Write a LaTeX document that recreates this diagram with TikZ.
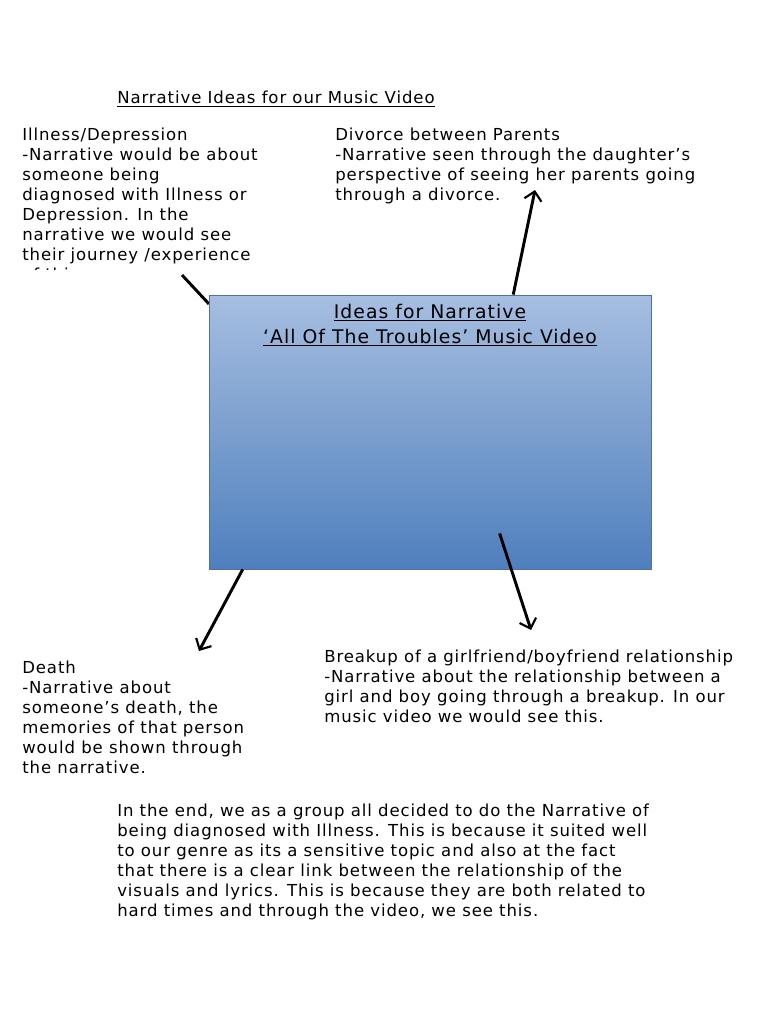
\documentclass[tikz,border=0pt]{standalone}
\usepackage{fontspec}
\setmainfont{DejaVu Sans}[LetterSpace=5.5]
\usetikzlibrary{arrows.meta,calc}

\begin{document}
\begin{tikzpicture}[x=0.75pt,y=-0.75pt]
        \tikzstyle{txt}=[anchor=north west,inner sep=0pt,align=left,font=\fontsize{12.4}{15}\selectfont]
        \tikzstyle{ideabox}=[rectangle,draw={rgb,255:red,80;green,112;blue,168},line width=0.6pt,
          top color={rgb,255:red,166;green,190;blue,224},bottom color={rgb,255:red,79;green,127;blue,189},
          minimum width=331.5pt,minimum height=205.5pt,inner sep=0pt]
        \tikzstyle{link}=[line width=2.2pt,-{Straight Barb[length=6.5pt,width=13pt,line width=1.6pt]}]
        \useasboundingbox (0,0) rectangle (768,1024);
        \node[txt] (heading) at (117,91) {\underline{Narrative Ideas for our Music Video}};
        \begin{scope}
          \clip (0,120) rectangle (330,269);
          \node[txt] (idea_1) at (22,128) {Illness/Depression\\-Narrative would be about\\someone being\\diagnosed with Illness or\\Depression. In the\\narrative we would see\\their journey /experience\\of this};
        \end{scope}
        \node[txt] (idea_2) at (335,128) {Divorce between Parents\\-Narrative seen through the daughter’s\\perspective of seeing her parents going\\through a divorce.};
        \node[txt] (idea_3) at (22,661) {Death\\-Narrative about\\someone’s death, the\\memories of that person\\would be shown through\\the narrative.};
        \node[txt] (idea_4) at (324,650) {Breakup of a girlfriend/boyfriend relationship\\-Narrative about the relationship between a\\girl and boy going through a breakup. In our\\music video we would see this.};
        \node[txt] (summary) at (117,804) {In the end, we as a group all decided to do the Narrative of\\being diagnosed with Illness. This is because it suited well\\to our genre as its a sensitive topic and also at the fact\\that there is a clear link between the relationship of the\\visuals and lyrics. This is because they are both related to\\hard times and through the video, we see this.};
        \coordinate (end_1) at (182,275);
        \coordinate (end_2) at (535,190);
        \coordinate (end_3) at (199,651);
        \coordinate (end_4) at (531,630);
        \draw[line width=2.2pt] ($(430,432)+(-221,-128)$) -- (end_1);
        \node[ideabox] (main) at (430,432) {};
        \node[anchor=north,inner sep=0pt,align=center,font=\fontsize{14.1}{18.5}\selectfont] (main_title) at (430,304)
          {\underline{Ideas for Narrative}\\\underline{‘All Of The Troubles’ Music Video}};
        \draw[link] ($(main.north west)!0.688!(main.north east)$) -- (end_2);
        \draw[link] ($(main.south west)!0.077!(main.south east)$) -- (end_3);
        \draw[link] ($(main.south west)+(291,-36)$) -- (end_4);
\end{tikzpicture}
\end{document}
